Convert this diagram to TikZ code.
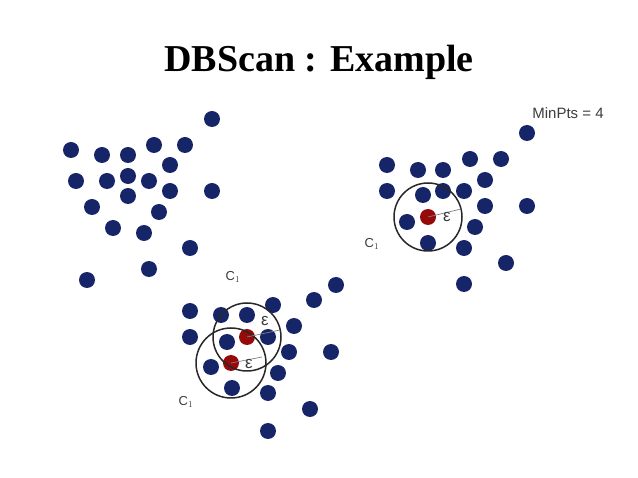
\documentclass[tikz,border=0pt]{standalone}
\usepackage{fontspec}
\setmainfont{Liberation Serif}
\newfontfamily\lsans{Liberation Sans}
\begin{document}
\begin{tikzpicture}[x=1pt,y=-1pt,
  pt/.style={circle,fill={rgb,255:red,22;green,36;blue,104},minimum size=16pt,inner sep=0pt},
  core/.style={circle,fill={rgb,255:red,150;green,10;blue,10},minimum size=16pt,inner sep=0pt},
  eps/.style={draw={rgb,255:red,40;green,40;blue,40},line width=1.5pt},
  lab/.style={font=\lsans\fontsize{13}{15}\selectfont,text={rgb,255:red,60;green,60;blue,60}},
  elab/.style={font=\lsans\fontsize{17}{19}\selectfont,text={rgb,255:red,60;green,60;blue,60},inner sep=0pt}]
\useasboundingbox (0,0) rectangle (638,478);
\node[font=\bfseries\fontsize{38}{44}\selectfont] (title) at (319,62) {DBScan : Example};
\node[lab,font=\lsans\fontsize{15}{17}\selectfont] (minpts) at (568,113) {MinPts = 4};
\foreach \x/\y [count=\i] in {212/119,71/150,102/155,128/155,154/145,185/145,170/165,76/181,107/181,128/176,149/181,170/191,212/191,128/196,92/207,159/212,113/228,144/233,190/248,149/269,87/280,
190/311,221/315,247/315,273/305,314/300,336/285,190/337,227/342,268/337,294/326,289/352,331/352,211/367,278/373,232/388,268/393,310/409,268/431,
387/165,418/170,443/170,470/159,501/159,387/191,423/195,443/191,464/191,485/180,485/206,527/206,407/222,475/227,428/243,464/248,506/263,464/284,527/133}
  \node[pt] (p\i) at (\x,\y) {};
\node[core] (ca) at (247,337) {};
\node[core] (cb) at (231,363) {};
\node[core] (cc) at (428,217) {};
\draw[eps] (ca) circle (34);
\draw[eps] (cb) circle (35);
\draw[eps] (cc) circle (34);
\coordinate (ea) at (280,330);
\coordinate (eb) at (262,357);
\coordinate (ec) at (461,209);
\draw[gray,line width=0.7pt] (ca.center) -- (ea);
\draw[gray,line width=0.7pt] (cb.center) -- (eb);
\draw[gray,line width=0.7pt] (cc.center) -- (ec);
\node[elab] (la) at (265,321) {ε};
\node[elab] (lb) at (249,364) {ε};
\node[elab] (lc) at (447,217) {ε};
\node[lab] (c1) at (233,277) {C$_1$};
\node[lab] (c2) at (186,402) {C$_1$};
\node[lab] (c3) at (372,244) {C$_1$};
\end{tikzpicture}
\end{document}
